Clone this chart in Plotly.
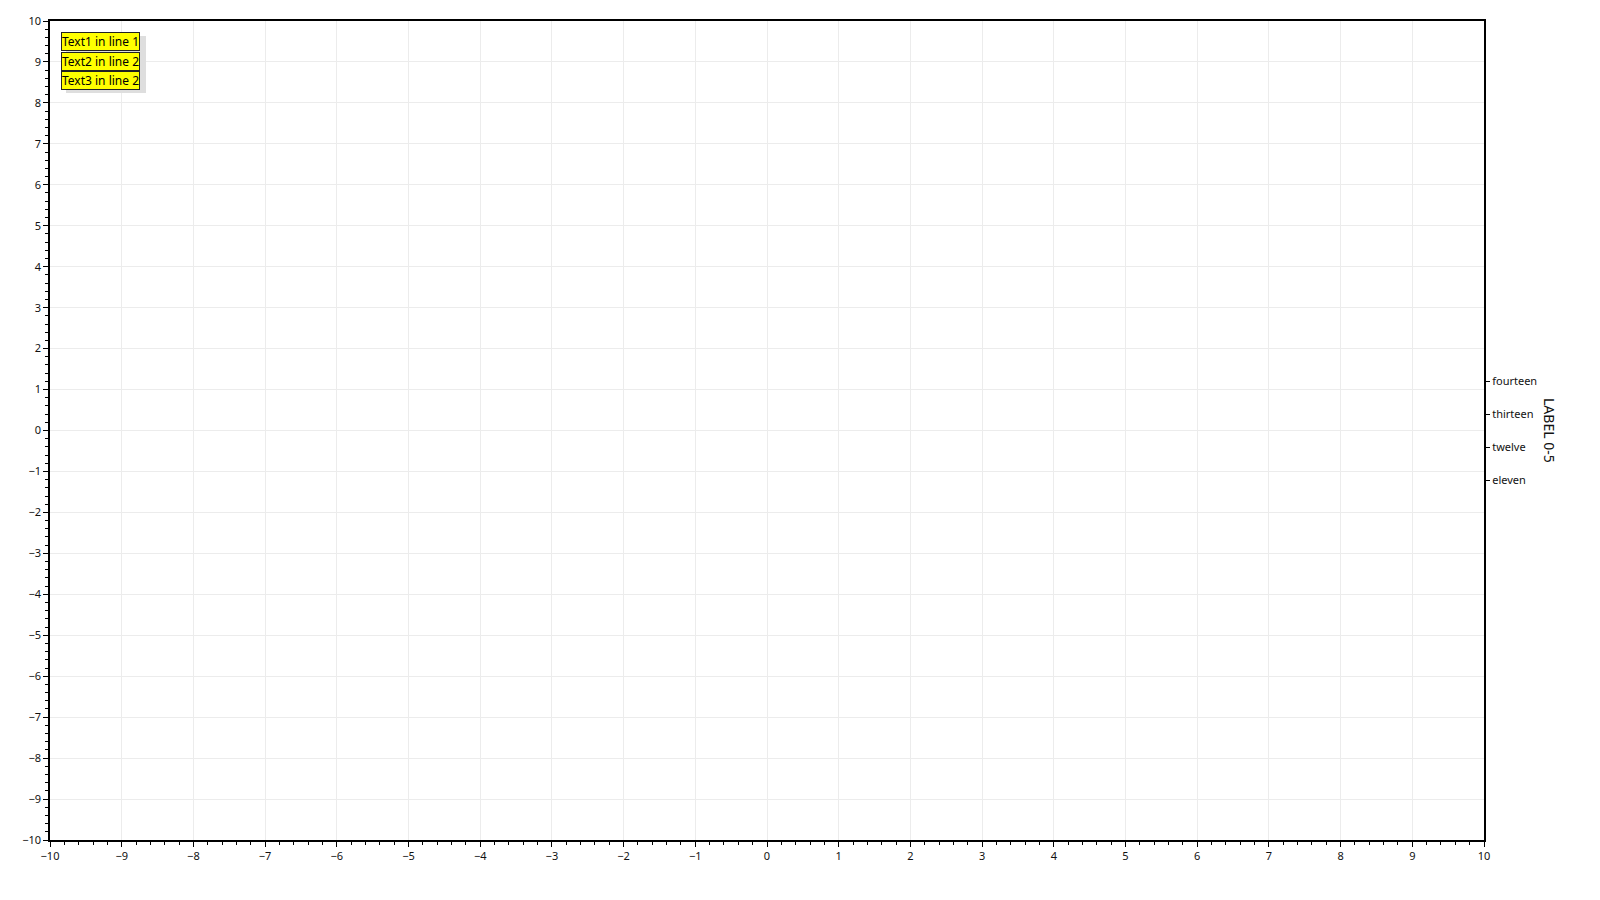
import plotly.graph_objects as go

# 軸の範囲と目盛
x_range = [-10, 10]
y_range = [-10, 10]

# 右軸のカテゴリ
right_categories = ["eleven", "twelve", "thirteen", "fourteen"]
right_title = "LABEL 0-5"

# 左上のテキストボックス
box_texts = ["Text1 in line 1", "Text2 in line 2", "Text3 in line 2"]

W, H = 1600, 900
L, R, T, B = 50, 116, 21, 60
plot_w = W - L - R
plot_h = H - T - B


def px_x(px):
    return (px - L) / plot_w


def px_y(py):
    return (H - B - py) / plot_h


FONT = "Noto Sans"

fig = go.Figure()

# 主軸用の空トレース
fig.add_trace(go.Scatter(x=x_range, y=y_range, mode="markers",
                         marker=dict(opacity=0), hoverinfo="skip",
                         showlegend=False))

# 右軸 (カテゴリ)
fig.add_trace(go.Scatter(x=[None] * len(right_categories), y=right_categories,
                         yaxis="y2", mode="markers", marker=dict(opacity=0),
                         hoverinfo="skip", showlegend=False))

# カテゴリ1単位 = 33px, "eleven" が y=480px に来るように
units = plot_h / 33.0
y2_lo = 0 - (H - B - 480) / 33.0
y2_hi = y2_lo + units

axis_font = dict(family=FONT, size=11, color="#111")

fig.update_layout(
    width=W, height=H,
    margin=dict(l=L, r=R, t=T, b=B, autoexpand=False),
    plot_bgcolor="white",
    paper_bgcolor="white",
    showlegend=False,
    xaxis=dict(range=x_range, dtick=1, showgrid=True, gridcolor="#ececec",
               zeroline=False, showline=True, linecolor="black", linewidth=1.5,
               mirror=True, ticks="outside", ticklen=5, tickcolor="black",
               tickfont=axis_font, automargin=False,
               minor=dict(dtick=0.2, ticks="outside", ticklen=3,
                          tickcolor="black", showgrid=False)),
    yaxis=dict(range=y_range, dtick=1, showgrid=True, gridcolor="#ececec",
               zeroline=False, showline=True, linecolor="black", linewidth=1.5,
               mirror=True, ticks="outside", ticklen=5, tickcolor="black",
               tickfont=axis_font, automargin=False,
               minor=dict(dtick=0.2, ticks="outside", ticklen=3,
                          tickcolor="black", showgrid=False)),
    yaxis2=dict(overlaying="y", side="right", type="category",
                categoryorder="array", categoryarray=right_categories,
                range=[y2_lo, y2_hi], showgrid=False, zeroline=False,
                showline=False, ticks="outside", ticklen=5, automargin=False,
                tickcolor="black", tickfont=axis_font),
)

# 右軸タイトル (上から下へ読む)
fig.add_annotation(text=right_title, xref="paper", yref="paper",
                   x=px_x(1550), y=px_y(430), xanchor="center",
                   yanchor="middle", showarrow=False, textangle=90,
                   font=dict(family=FONT, size=14, color="#111"))

# テキストボックスの影
fig.add_shape(type="rect", xref="paper", yref="paper",
              x0=px_x(66), x1=px_x(146), y0=px_y(93), y1=px_y(36),
              fillcolor="#dedede", line=dict(width=0), layer="above")

box_tops = [32, 52, 71]
for txt, top in zip(box_texts, box_tops):
    fig.add_annotation(text=txt, xref="paper", yref="paper",
                       x=px_x(61), y=px_y(top), xanchor="left", yanchor="top",
                       showarrow=False, bgcolor="yellow", bordercolor="#222",
                       borderwidth=1, borderpad=0,
                       font=dict(family=FONT, size=12, color="black"))

fig.write_html("out.html",
               config={"displayModeBar": False},
               post_script="document.body.style.margin='0';"
                           "document.body.style.overflow='hidden';")
